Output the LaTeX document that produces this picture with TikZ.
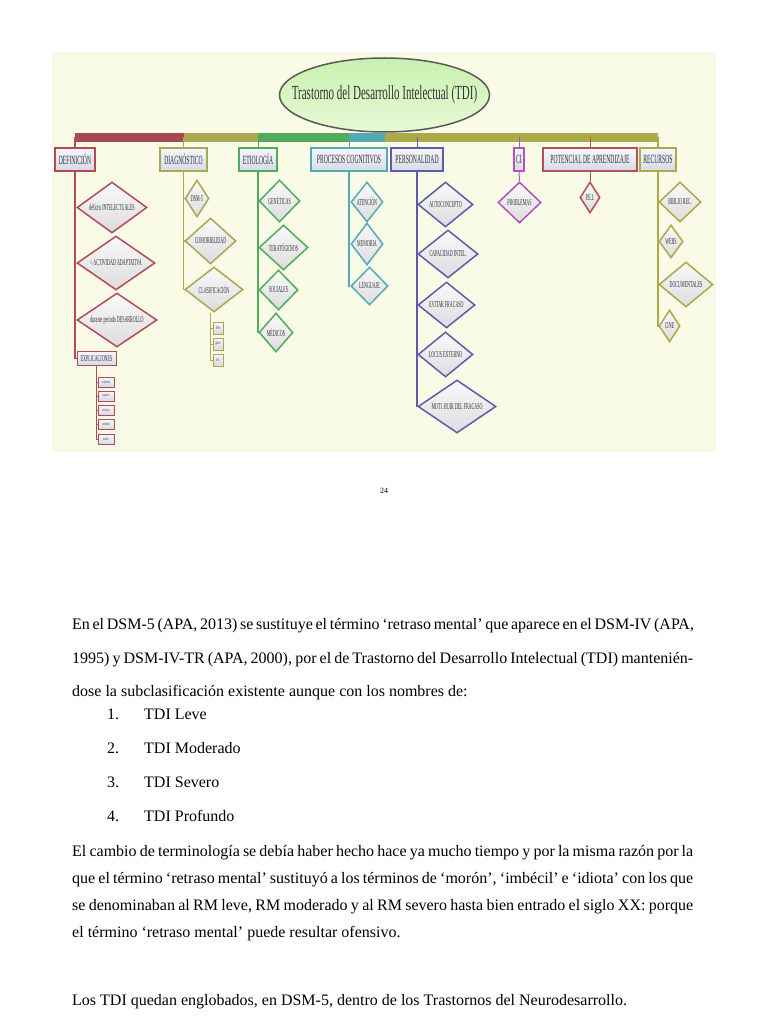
\documentclass[tikz,border=0pt]{standalone}
\usepackage{fontspec}
\setmainfont{Liberation Serif}
\newfontfamily\cfont[FakeStretch=0.55]{Liberation Serif}
\newfontfamily\kfont[FakeStretch=0.45]{Liberation Serif}
\usetikzlibrary{shapes.geometric}
\definecolor{bgYellow}{RGB}{250,251,230}
\definecolor{ellTop}{RGB}{200,240,175}
\definecolor{ellBot}{RGB}{232,250,215}
\definecolor{defC}{RGB}{178,76,84}
\definecolor{diaC}{RGB}{170,168,80}
\definecolor{etiC}{RGB}{84,170,92}
\definecolor{proC}{RGB}{84,170,178}
\definecolor{perC}{RGB}{92,92,172}
\definecolor{ciC}{RGB}{178,82,190}
\definecolor{potC}{RGB}{180,80,82}
\definecolor{recC}{RGB}{170,170,72}
\definecolor{boxTop}{RGB}{246,247,252}
\definecolor{boxBot}{RGB}{214,218,230}
\definecolor{diaTop}{RGB}{250,250,250}
\definecolor{diaBot}{RGB}{220,220,222}
\definecolor{inkGray}{RGB}{50,50,55}
\newcommand{\dt}[1]{\makebox[0pt]{#1}}
\newcommand{\jline}[1]{\makebox[621pt][s]{#1}}

\begin{document}
\begin{tikzpicture}[x=1pt, y=-1pt,
    cat/.style={draw, line width=1.6pt, top color=boxTop, bottom color=boxBot, text=inkGray,
      inner sep=0pt, minimum height=23pt, font=\kfont\fontsize{12.5}{12.5}\selectfont},
    sub/.style={draw, line width=1pt, top color=boxTop, bottom color=boxBot, text=inkGray,
      inner sep=0pt, font=\kfont\fontsize{4}{4}\selectfont},
    dia/.style={shape=diamond, draw, line width=1.5pt, inner sep=0pt, text=inkGray,
      top color=diaTop, bottom color=diaBot, font=\kfont\fontsize{9}{9}\selectfont},
    trunk/.style={line width=1.3pt},
    bar/.style={line width=9pt},
    txt/.style={anchor=base west, inner sep=0pt, font=\fontsize{16}{20}\selectfont}]
  \useasboundingbox (0,0) rectangle (768,1024);
  \fill[white] (0,0) rectangle (768,1024);
  \fill[bgYellow] (52,52) rectangle (716,452);

  % Title
  \node[ellipse, draw=black!65, line width=1.5pt, top color=ellTop, bottom color=ellBot,
    minimum width=210pt, minimum height=74pt, inner sep=0pt, text=inkGray,
    font=\cfont\fontsize{20}{20}\selectfont] (tdi) at (384.5,95) {\dt{Trastorno del Desarrollo Intelectual (TDI)}};

  % Bar
  \coordinate (bDef) at (75,137.5);
  \coordinate (bDia) at (183.5,137.5);
  \coordinate (bEti) at (258,137.5);
  \coordinate (bPro) at (349,137.5);
  \coordinate (bMid) at (384.5,137.5);
  \coordinate (bPer) at (417,137.5);
  \coordinate (bCi) at (519,137.5);
  \coordinate (bPot) at (590,137.5);
  \coordinate (bRec) at (658,137.5);
  \draw[bar, defC!95!black] (bDef) -- (bDia);
  \draw[bar, diaC] (bDia) -- (bEti);
  \draw[bar, etiC] (bEti) -- (bPro);
  \draw[bar, proC] (bPro) -- (bMid);
  \draw[bar, recC] (bMid) -- (bRec);

  % Categories
  \node[cat, draw=defC, minimum width=40pt] (def) at (75,159.5) {\dt{DEFINICIÓN}};
  \node[cat, draw=diaC, minimum width=47pt] (dia) at (183.5,159.5) {\dt{DIAGNÓSTICO}};
  \node[cat, draw=etiC, minimum width=38pt] (eti) at (258,159.5) {\dt{ETIOLOGÍA}};
  \node[cat, draw=proC, minimum width=76pt] (pro) at (349,159.5) {\dt{PROCESOS COGNITIVOS}};
  \node[cat, draw=perC, minimum width=52pt] (per) at (417,159.5) {\dt{PERSONALIDAD}};
  \node[cat, draw=ciC, minimum width=10pt] (ci) at (519,159.5) {\dt{CI}};
  \node[cat, draw=potC, minimum width=94pt] (pot) at (590,159.5) {\dt{POTENCIAL DE APRENDIZAJE}};
  \node[cat, draw=recC, minimum width=36pt] (rec) at (658,159.5) {\dt{RECURSOS}};

  \draw[line width=2pt, defC] (bDef) -- (def.north);
  \draw[line width=1pt, diaC] (bDia) -- (dia.north);
  \draw[line width=1pt, etiC] (bEti) -- (eti.north);
  \draw[line width=1pt, proC] (bPro) -- (pro.north);
  \draw[line width=1pt, perC] (bPer) -- (per.north);
  \draw[line width=1pt, ciC] (bCi) -- (ci.north);
  \draw[line width=1pt, potC] (bPot) -- (pot.north);
  \draw[line width=2pt, recC] (bRec) -- (rec.north);

  % Definicion
  \node[dia, draw=defC, minimum width=70pt, minimum height=51pt] (d1) at (112,207.5) {\dt{déficits INTELECTUALES}};
  \node[dia, draw=defC, minimum width=78pt, minimum height=54pt] (d2) at (116,263) {\dt{< ACTIVIDAD ADAPTATIVA}};
  \node[dia, draw=defC, minimum width=80pt, minimum height=54pt] (d3) at (117,320) {\dt{durante periodo DESARROLLO}};
  \node[sub, draw=defC, minimum width=39pt, minimum height=14pt, font=\kfont\fontsize{9}{9}\selectfont] (expl) at (96.5,358.5) {\dt{EXPLICACIONES}};
  \foreach \n in {d1,d2,d3,expl}
    \draw[trunk, defC] (def.south) |- (\n.west);
  \foreach \t/\y [count=\i] in {conductista/382,cognitivo/396,evolutivo/410,ambiental/424,médico/439}
    \node[sub, draw=defC, minimum width=16pt, minimum height=10pt] (e\i) at (106,\y) {\dt{\t}};
  \foreach \i in {1,...,5}
    \draw[line width=1pt, defC] (expl.south) |- (e\i.west);

  % Diagnostico
  \node[dia, draw=diaC, minimum width=24pt, minimum height=37pt] (g1) at (197,198.5) {\dt{DSM-5}};
  \node[dia, draw=diaC, minimum width=51pt, minimum height=46pt] (g2) at (210.5,241) {\dt{COMORBILIDAD}};
  \node[dia, draw=diaC, minimum width=58pt, minimum height=45pt] (g3) at (214,289.5) {\dt{CLASIFICACIÓN}};
  \foreach \n in {g1,g2,g3}
    \draw[trunk, diaC] (dia.south) |- (\n.west);
  \foreach \t/\y [count=\i] in {leve/328,grave/344,etc./360}
    \node[sub, draw=diaC, minimum width=10pt, minimum height=12pt, font=\kfont\fontsize{5}{5}\selectfont] (c\i) at (218,\y) {\dt{\t}};
  \foreach \i in {1,2,3}
    \draw[line width=1pt, diaC] ([xshift=-4pt]g3.south) |- (c\i.west);

  % Etiologia
  \node[dia, draw=etiC, minimum width=41pt, minimum height=42pt] (t1) at (279.5,201) {\dt{GENÉTICAS}};
  \node[dia, draw=etiC, minimum width=49pt, minimum height=45pt] (t2) at (283.5,247.5) {\dt{TERATÓGENOS}};
  \node[dia, draw=etiC, minimum width=39pt, minimum height=40pt] (t3) at (278.5,290) {\dt{SOCIALES}};
  \node[dia, draw=etiC, minimum width=34pt, minimum height=39pt] (t4) at (276,332.5) {\dt{MÉDICOS}};
  \foreach \n in {t1,t2,t3,t4}
    \draw[trunk, etiC] (eti.south) |- (\n.west);

  % Procesos cognitivos
  \node[dia, draw=proC, minimum width=32pt, minimum height=40pt] (p1) at (367,202) {\dt{ATENCIÓN}};
  \node[dia, draw=proC, minimum width=32pt, minimum height=42pt] (p2) at (367,244) {\dt{MEMORIA}};
  \node[dia, draw=proC, minimum width=37pt, minimum height=38pt] (p3) at (369.5,286) {\dt{LENGUAJE}};
  \foreach \n in {p1,p2,p3}
    \draw[trunk, proC] (pro.south) |- (\n.west);

  % Personalidad
  \node[dia, draw=perC, minimum width=55pt, minimum height=45pt] (s1) at (445.5,204.5) {\dt{AUTOCONCEPTO}};
  \node[dia, draw=perC, minimum width=60pt, minimum height=48pt] (s2) at (448,254) {\dt{CAPACIDAD INTEL.}};
  \node[dia, draw=perC, minimum width=57pt, minimum height=46pt] (s3) at (446.5,305) {\dt{EVITAR FRACASO}};
  \node[dia, draw=perC, minimum width=55pt, minimum height=45pt] (s4) at (445.5,354.5) {\dt{LOCUS EXTERNO}};
  \node[dia, draw=perC, minimum width=78pt, minimum height=53pt] (s5) at (457,406.5) {\dt{MOTI. HUIR DEL FRACASO}};
  \foreach \n in {s1,s2,s3,s4,s5}
    \draw[trunk, perC] (per.south) |- (\n.west);

  % CI and potencial
  \node[dia, draw=ciC, minimum width=43pt, minimum height=41pt] (q1) at (519.5,202.5) {\dt{PROBLEMAS}};
  \draw[line width=1pt, ciC] (ci.south) -- (q1.north);
  \node[dia, draw=potC, minimum width=20pt, minimum height=31pt] (r1) at (590,197.5) {\dt{P.E.I.}};
  \draw[line width=1pt, potC] (pot.south) -- (r1.north);

  % Recursos
  \node[dia, draw=recC, minimum width=42pt, minimum height=40pt] (u1) at (680,202) {\dt{BIBLIO REC.}};
  \node[dia, draw=recC, minimum width=24pt, minimum height=33pt] (u2) at (671,241.5) {\dt{WEBS}};
  \node[dia, draw=recC, minimum width=54pt, minimum height=45pt] (u3) at (686,284.5) {\dt{DOCUMENTALES}};
  \node[dia, draw=recC, minimum width=21pt, minimum height=32pt] (u4) at (669.5,326) {\dt{CINE}};
  \foreach \n in {u1,u2,u3,u4}
    \draw[trunk, recC] (rec.south) |- (\n.west);

  % Page number
  \node[font=\fontsize{8}{8}\selectfont] (pnum) at (384,491) {24};

  % Text
  \node[txt] (a1) at (72,629) {\jline{En el DSM-5 (APA, 2013) se sustituye el término ‘retraso mental’ que aparece en el DSM-IV (APA,}};
  \node[txt] (a2) at (72,663) {\jline{1995) y DSM-IV-TR (APA, 2000), por el de Trastorno del Desarrollo Intelectual (TDI) mantenién-}};
  \node[txt] (a3) at (72,696) {dose la subclasificación existente aunque con los nombres de:};
  \foreach \t/\y [count=\i] in {TDI Leve/719,TDI Moderado/753,TDI Severo/787,TDI Profundo/821} {
    \node[txt] (n\i) at (107,\y) {\i.};
    \node[txt] (l\i) at (144,\y) {\t};
  }
  \node[txt] (b1) at (72,856) {\jline{El cambio de terminología se debía haber hecho hace ya mucho tiempo y por la misma razón por la}};
  \node[txt] (b2) at (72,883) {\jline{que el término ‘retraso mental’ sustituyó a los términos de ‘morón’, ‘imbécil’ e ‘idiota’ con los que}};
  \node[txt] (b3) at (72,910) {\jline{se denominaban al RM leve, RM moderado y al RM severo hasta bien entrado el siglo XX: porque}};
  \node[txt] (b4) at (72,937) {el término ‘retraso mental’ puede resultar ofensivo.};
  \node[txt] (c1t) at (72,1005) {Los TDI quedan englobados, en DSM-5, dentro de los Trastornos del Neurodesarrollo.};
\end{tikzpicture}
\end{document}
